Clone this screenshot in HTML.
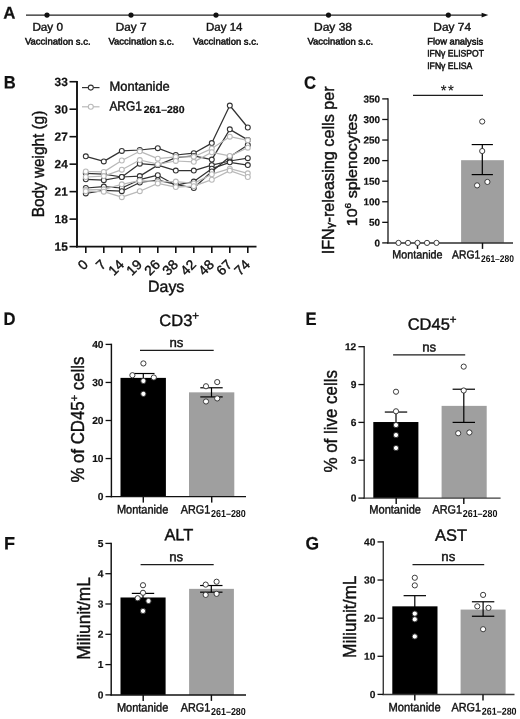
<!DOCTYPE html>
<html lang="en">
<head>
<meta charset="utf-8">
<title>Figure</title>
<style>
html,body{margin:0;padding:0;background:#fff;}
body{width:520px;height:719px;overflow:hidden;}
svg{display:block;font-family:'Liberation Sans', sans-serif;}
svg text{stroke:#111;stroke-width:.42px;}
svg text[font-weight=bold]{stroke-width:.2px;}
</style>
</head>
<body>
<svg width="520" height="719" viewBox="0 0 520 719">
<rect x="0" y="0" width="520" height="719" fill="#ffffff"/>
<text x="3.20" y="18.80" transform="rotate(0.05 3.20 18.80)" font-size="17.2" text-anchor="start" font-weight="bold" fill="#111" textLength="12.2" lengthAdjust="spacingAndGlyphs">A</text>
<line x1="26.00" y1="15.10" x2="483.00" y2="15.10" stroke="#222" stroke-width="1.4" stroke-linecap="butt"/>
<path d="M488.3 15.1 L481.6 12.7 L481.6 17.5 Z" fill="#111"/>
<circle cx="47" cy="15.1" r="2.6" fill="#111"/>
<circle cx="131" cy="15.1" r="2.6" fill="#111"/>
<circle cx="216" cy="15.1" r="2.6" fill="#111"/>
<circle cx="328.5" cy="15.1" r="2.6" fill="#111"/>
<circle cx="448.3" cy="15.1" r="2.6" fill="#111"/>
<text x="32.40" y="30.80" transform="rotate(0.05 32.40 30.80)" font-size="11.3" text-anchor="start" font-weight="normal" fill="#111" textLength="30.6" lengthAdjust="spacingAndGlyphs" style="stroke-width:.4px">Day 0</text>
<text x="115.80" y="30.80" transform="rotate(0.05 115.80 30.80)" font-size="11.3" text-anchor="start" font-weight="normal" fill="#111" textLength="30.6" lengthAdjust="spacingAndGlyphs" style="stroke-width:.4px">Day 7</text>
<text x="206.00" y="30.80" transform="rotate(0.05 206.00 30.80)" font-size="11.3" text-anchor="start" font-weight="normal" fill="#111" textLength="36.5" lengthAdjust="spacingAndGlyphs" style="stroke-width:.4px">Day 14</text>
<text x="314.00" y="30.80" transform="rotate(0.05 314.00 30.80)" font-size="11.3" text-anchor="start" font-weight="normal" fill="#111" textLength="38" lengthAdjust="spacingAndGlyphs" style="stroke-width:.4px">Day 38</text>
<text x="433.30" y="30.80" transform="rotate(0.05 433.30 30.80)" font-size="11.3" text-anchor="start" font-weight="normal" fill="#111" textLength="37.7" lengthAdjust="spacingAndGlyphs" style="stroke-width:.4px">Day 74</text>
<text x="25.00" y="44.60" transform="rotate(0.05 25.00 44.60)" font-size="9.4" text-anchor="start" font-weight="normal" fill="#111" textLength="65.6" lengthAdjust="spacingAndGlyphs" style="stroke-width:.5px">Vaccination s.c.</text>
<text x="108.50" y="44.60" transform="rotate(0.05 108.50 44.60)" font-size="9.4" text-anchor="start" font-weight="normal" fill="#111" textLength="65.6" lengthAdjust="spacingAndGlyphs" style="stroke-width:.5px">Vaccination s.c.</text>
<text x="193.00" y="44.60" transform="rotate(0.05 193.00 44.60)" font-size="9.4" text-anchor="start" font-weight="normal" fill="#111" textLength="65.6" lengthAdjust="spacingAndGlyphs" style="stroke-width:.5px">Vaccination s.c.</text>
<text x="307.50" y="44.60" transform="rotate(0.05 307.50 44.60)" font-size="9.4" text-anchor="start" font-weight="normal" fill="#111" textLength="65.6" lengthAdjust="spacingAndGlyphs" style="stroke-width:.5px">Vaccination s.c.</text>
<text x="427.20" y="44.60" transform="rotate(0.05 427.20 44.60)" font-size="9.4" text-anchor="start" font-weight="normal" fill="#111" textLength="56" lengthAdjust="spacingAndGlyphs" style="stroke-width:.5px">Flow analysis</text>
<text x="427.20" y="56.50" transform="rotate(0.05 427.20 56.50)" font-size="9.4" text-anchor="start" font-weight="normal" fill="#111" textLength="56.7" lengthAdjust="spacingAndGlyphs" style="stroke-width:.5px">IFNγ ELISPOT</text>
<text x="427.20" y="69.00" transform="rotate(0.05 427.20 69.00)" font-size="9.4" text-anchor="start" font-weight="normal" fill="#111" textLength="45.2" lengthAdjust="spacingAndGlyphs" style="stroke-width:.5px">IFNγ ELISA</text>
<text x="3.70" y="88.50" transform="rotate(0.05 3.70 88.50)" font-size="18" text-anchor="start" font-weight="bold" fill="#111" textLength="12" lengthAdjust="spacingAndGlyphs">B</text>
<line x1="77.00" y1="80.92" x2="77.00" y2="247.50" stroke="#111" stroke-width="1.9" stroke-linecap="butt"/>
<line x1="76.10" y1="246.60" x2="256.50" y2="246.60" stroke="#111" stroke-width="1.9" stroke-linecap="butt"/>
<line x1="69.50" y1="246.60" x2="77.00" y2="246.60" stroke="#111" stroke-width="1.6" stroke-linecap="butt"/>
<text x="67.80" y="250.80" transform="rotate(0.05 67.80 250.80)" font-size="11.9" text-anchor="end" font-weight="bold" fill="#111" >15</text>
<line x1="69.50" y1="219.12" x2="77.00" y2="219.12" stroke="#111" stroke-width="1.6" stroke-linecap="butt"/>
<text x="67.80" y="223.32" transform="rotate(0.05 67.80 223.32)" font-size="11.9" text-anchor="end" font-weight="bold" fill="#111" >18</text>
<line x1="69.50" y1="191.64" x2="77.00" y2="191.64" stroke="#111" stroke-width="1.6" stroke-linecap="butt"/>
<text x="67.80" y="195.84" transform="rotate(0.05 67.80 195.84)" font-size="11.9" text-anchor="end" font-weight="bold" fill="#111" >21</text>
<line x1="69.50" y1="164.16" x2="77.00" y2="164.16" stroke="#111" stroke-width="1.6" stroke-linecap="butt"/>
<text x="67.80" y="168.36" transform="rotate(0.05 67.80 168.36)" font-size="11.9" text-anchor="end" font-weight="bold" fill="#111" >24</text>
<line x1="69.50" y1="136.68" x2="77.00" y2="136.68" stroke="#111" stroke-width="1.6" stroke-linecap="butt"/>
<text x="67.80" y="140.88" transform="rotate(0.05 67.80 140.88)" font-size="11.9" text-anchor="end" font-weight="bold" fill="#111" >27</text>
<line x1="69.50" y1="109.20" x2="77.00" y2="109.20" stroke="#111" stroke-width="1.6" stroke-linecap="butt"/>
<text x="67.80" y="113.40" transform="rotate(0.05 67.80 113.40)" font-size="11.9" text-anchor="end" font-weight="bold" fill="#111" >30</text>
<line x1="69.50" y1="81.72" x2="77.00" y2="81.72" stroke="#111" stroke-width="1.6" stroke-linecap="butt"/>
<text x="67.80" y="85.92" transform="rotate(0.05 67.80 85.92)" font-size="11.9" text-anchor="end" font-weight="bold" fill="#111" >33</text>
<line x1="85.80" y1="246.60" x2="85.80" y2="253.00" stroke="#111" stroke-width="1.6" stroke-linecap="butt"/>
<text transform="translate(88.8,265.4) rotate(-45)" font-size="13.7" text-anchor="end" fill="#111">0</text>
<line x1="103.80" y1="246.60" x2="103.80" y2="253.00" stroke="#111" stroke-width="1.6" stroke-linecap="butt"/>
<text transform="translate(106.8,265.4) rotate(-45)" font-size="13.7" text-anchor="end" fill="#111">7</text>
<line x1="121.80" y1="246.60" x2="121.80" y2="253.00" stroke="#111" stroke-width="1.6" stroke-linecap="butt"/>
<text transform="translate(124.8,265.4) rotate(-45)" font-size="13.7" text-anchor="end" fill="#111">14</text>
<line x1="139.80" y1="246.60" x2="139.80" y2="253.00" stroke="#111" stroke-width="1.6" stroke-linecap="butt"/>
<text transform="translate(142.8,265.4) rotate(-45)" font-size="13.7" text-anchor="end" fill="#111">19</text>
<line x1="157.80" y1="246.60" x2="157.80" y2="253.00" stroke="#111" stroke-width="1.6" stroke-linecap="butt"/>
<text transform="translate(160.8,265.4) rotate(-45)" font-size="13.7" text-anchor="end" fill="#111">26</text>
<line x1="175.80" y1="246.60" x2="175.80" y2="253.00" stroke="#111" stroke-width="1.6" stroke-linecap="butt"/>
<text transform="translate(178.8,265.4) rotate(-45)" font-size="13.7" text-anchor="end" fill="#111">38</text>
<line x1="193.80" y1="246.60" x2="193.80" y2="253.00" stroke="#111" stroke-width="1.6" stroke-linecap="butt"/>
<text transform="translate(196.8,265.4) rotate(-45)" font-size="13.7" text-anchor="end" fill="#111">42</text>
<line x1="211.80" y1="246.60" x2="211.80" y2="253.00" stroke="#111" stroke-width="1.6" stroke-linecap="butt"/>
<text transform="translate(214.8,265.4) rotate(-45)" font-size="13.7" text-anchor="end" fill="#111">48</text>
<line x1="229.80" y1="246.60" x2="229.80" y2="253.00" stroke="#111" stroke-width="1.6" stroke-linecap="butt"/>
<text transform="translate(232.8,265.4) rotate(-45)" font-size="13.7" text-anchor="end" fill="#111">67</text>
<line x1="247.80" y1="246.60" x2="247.80" y2="253.00" stroke="#111" stroke-width="1.6" stroke-linecap="butt"/>
<text transform="translate(250.8,265.4) rotate(-45)" font-size="13.7" text-anchor="end" fill="#111">74</text>
<text x="166.20" y="291.90" transform="rotate(0.05 166.20 291.90)" font-size="15.9" text-anchor="middle" font-weight="normal" fill="#111" >Days</text>
<text transform="translate(43.6,164) rotate(-90)" font-size="15.9" text-anchor="middle" fill="#111" textLength="106.5" lengthAdjust="spacingAndGlyphs">Body weight (g)</text>
<line x1="82.00" y1="87.60" x2="99.50" y2="87.60" stroke="#333333" stroke-width="1.2" stroke-linecap="butt"/>
<circle cx="90.80" cy="87.60" r="2.5" fill="#fff" stroke="#333333" stroke-width="1.1"/>
<line x1="82.00" y1="106.80" x2="99.50" y2="106.80" stroke="#b9b9b9" stroke-width="1.2" stroke-linecap="butt"/>
<circle cx="90.80" cy="106.80" r="2.5" fill="#fff" stroke="#b9b9b9" stroke-width="1.1"/>
<text x="109.60" y="90.70" transform="rotate(0.05 109.60 90.70)" font-size="13.1" text-anchor="start" font-weight="normal" fill="#111" textLength="60.2" lengthAdjust="spacingAndGlyphs">Montanide</text>
<text x="109.4" y="110.4" transform="rotate(0.05 109.4 110.4)" font-size="13.2" fill="#111" textLength="32.6" lengthAdjust="spacingAndGlyphs">ARG1</text><text x="143.7" y="113.1" transform="rotate(0.05 143.7 113.1)" font-size="10.2" font-weight="bold" fill="#111" textLength="40.8" lengthAdjust="spacingAndGlyphs">261–280</text>
<polyline points="85.8,156.4 103.8,161.4 121.8,150.9 139.8,150.0 157.8,148.1 175.8,155.0 193.8,153.2 211.8,143.1 229.8,105.5 247.8,127.5" fill="none" stroke="#333333" stroke-width="1.25" stroke-linejoin="round"/>
<circle cx="85.80" cy="156.37" r="2.45" fill="#fff" stroke="#333333" stroke-width="1.1"/>
<circle cx="103.80" cy="161.41" r="2.45" fill="#fff" stroke="#333333" stroke-width="1.1"/>
<circle cx="121.80" cy="150.88" r="2.45" fill="#fff" stroke="#333333" stroke-width="1.1"/>
<circle cx="139.80" cy="149.96" r="2.45" fill="#fff" stroke="#333333" stroke-width="1.1"/>
<circle cx="157.80" cy="148.13" r="2.45" fill="#fff" stroke="#333333" stroke-width="1.1"/>
<circle cx="175.80" cy="155.00" r="2.45" fill="#fff" stroke="#333333" stroke-width="1.1"/>
<circle cx="193.80" cy="153.17" r="2.45" fill="#fff" stroke="#333333" stroke-width="1.1"/>
<circle cx="211.80" cy="143.09" r="2.45" fill="#fff" stroke="#333333" stroke-width="1.1"/>
<circle cx="229.80" cy="105.54" r="2.45" fill="#fff" stroke="#333333" stroke-width="1.1"/>
<circle cx="247.80" cy="127.52" r="2.45" fill="#fff" stroke="#333333" stroke-width="1.1"/>
<polyline points="85.8,173.3 103.8,174.2 121.8,177.0 139.8,163.7 157.8,165.1 175.8,157.7 193.8,155.9 211.8,159.6 229.8,129.4 247.8,139.9" fill="none" stroke="#333333" stroke-width="1.25" stroke-linejoin="round"/>
<circle cx="85.80" cy="173.32" r="2.45" fill="#fff" stroke="#333333" stroke-width="1.1"/>
<circle cx="103.80" cy="174.24" r="2.45" fill="#fff" stroke="#333333" stroke-width="1.1"/>
<circle cx="121.80" cy="176.98" r="2.45" fill="#fff" stroke="#333333" stroke-width="1.1"/>
<circle cx="139.80" cy="163.70" r="2.45" fill="#fff" stroke="#333333" stroke-width="1.1"/>
<circle cx="157.80" cy="165.08" r="2.45" fill="#fff" stroke="#333333" stroke-width="1.1"/>
<circle cx="175.80" cy="157.75" r="2.45" fill="#fff" stroke="#333333" stroke-width="1.1"/>
<circle cx="193.80" cy="155.92" r="2.45" fill="#fff" stroke="#333333" stroke-width="1.1"/>
<circle cx="211.80" cy="159.58" r="2.45" fill="#fff" stroke="#333333" stroke-width="1.1"/>
<circle cx="229.80" cy="129.35" r="2.45" fill="#fff" stroke="#333333" stroke-width="1.1"/>
<circle cx="247.80" cy="139.89" r="2.45" fill="#fff" stroke="#333333" stroke-width="1.1"/>
<polyline points="85.8,179.3 103.8,180.2 121.8,177.0 139.8,176.1 157.8,165.1 175.8,170.6 193.8,170.6 211.8,165.1 229.8,161.0 247.8,158.2" fill="none" stroke="#333333" stroke-width="1.25" stroke-linejoin="round"/>
<circle cx="85.80" cy="179.27" r="2.45" fill="#fff" stroke="#333333" stroke-width="1.1"/>
<circle cx="103.80" cy="180.19" r="2.45" fill="#fff" stroke="#333333" stroke-width="1.1"/>
<circle cx="121.80" cy="176.98" r="2.45" fill="#fff" stroke="#333333" stroke-width="1.1"/>
<circle cx="139.80" cy="176.07" r="2.45" fill="#fff" stroke="#333333" stroke-width="1.1"/>
<circle cx="157.80" cy="165.08" r="2.45" fill="#fff" stroke="#333333" stroke-width="1.1"/>
<circle cx="175.80" cy="170.57" r="2.45" fill="#fff" stroke="#333333" stroke-width="1.1"/>
<circle cx="193.80" cy="170.57" r="2.45" fill="#fff" stroke="#333333" stroke-width="1.1"/>
<circle cx="211.80" cy="165.08" r="2.45" fill="#fff" stroke="#333333" stroke-width="1.1"/>
<circle cx="229.80" cy="160.95" r="2.45" fill="#fff" stroke="#333333" stroke-width="1.1"/>
<circle cx="247.80" cy="158.21" r="2.45" fill="#fff" stroke="#333333" stroke-width="1.1"/>
<polyline points="85.8,188.0 103.8,186.6 121.8,188.0 139.8,179.7 157.8,175.2 175.8,185.2 193.8,181.6 211.8,168.7 229.8,162.3 247.8,165.1" fill="none" stroke="#333333" stroke-width="1.25" stroke-linejoin="round"/>
<circle cx="85.80" cy="187.98" r="2.45" fill="#fff" stroke="#333333" stroke-width="1.1"/>
<circle cx="103.80" cy="186.60" r="2.45" fill="#fff" stroke="#333333" stroke-width="1.1"/>
<circle cx="121.80" cy="187.98" r="2.45" fill="#fff" stroke="#333333" stroke-width="1.1"/>
<circle cx="139.80" cy="179.73" r="2.45" fill="#fff" stroke="#333333" stroke-width="1.1"/>
<circle cx="157.80" cy="175.15" r="2.45" fill="#fff" stroke="#333333" stroke-width="1.1"/>
<circle cx="175.80" cy="185.23" r="2.45" fill="#fff" stroke="#333333" stroke-width="1.1"/>
<circle cx="193.80" cy="181.56" r="2.45" fill="#fff" stroke="#333333" stroke-width="1.1"/>
<circle cx="211.80" cy="168.74" r="2.45" fill="#fff" stroke="#333333" stroke-width="1.1"/>
<circle cx="229.80" cy="162.33" r="2.45" fill="#fff" stroke="#333333" stroke-width="1.1"/>
<circle cx="247.80" cy="165.08" r="2.45" fill="#fff" stroke="#333333" stroke-width="1.1"/>
<polyline points="85.8,193.5 103.8,190.3 121.8,191.2 139.8,182.5 157.8,180.2 175.8,184.3 193.8,188.0 211.8,171.5 229.8,156.8 247.8,144.9" fill="none" stroke="#333333" stroke-width="1.25" stroke-linejoin="round"/>
<circle cx="85.80" cy="193.47" r="2.45" fill="#fff" stroke="#333333" stroke-width="1.1"/>
<circle cx="103.80" cy="190.27" r="2.45" fill="#fff" stroke="#333333" stroke-width="1.1"/>
<circle cx="121.80" cy="191.18" r="2.45" fill="#fff" stroke="#333333" stroke-width="1.1"/>
<circle cx="139.80" cy="182.48" r="2.45" fill="#fff" stroke="#333333" stroke-width="1.1"/>
<circle cx="157.80" cy="180.19" r="2.45" fill="#fff" stroke="#333333" stroke-width="1.1"/>
<circle cx="175.80" cy="184.31" r="2.45" fill="#fff" stroke="#333333" stroke-width="1.1"/>
<circle cx="193.80" cy="187.98" r="2.45" fill="#fff" stroke="#333333" stroke-width="1.1"/>
<circle cx="211.80" cy="171.49" r="2.45" fill="#fff" stroke="#333333" stroke-width="1.1"/>
<circle cx="229.80" cy="156.83" r="2.45" fill="#fff" stroke="#333333" stroke-width="1.1"/>
<circle cx="247.80" cy="144.92" r="2.45" fill="#fff" stroke="#333333" stroke-width="1.1"/>
<polyline points="85.8,171.5 103.8,171.9 121.8,160.5 139.8,151.3 157.8,158.7 175.8,156.8 193.8,156.8 211.8,148.6 229.8,136.7 247.8,140.3" fill="none" stroke="#b9b9b9" stroke-width="1.25" stroke-linejoin="round"/>
<circle cx="85.80" cy="171.49" r="2.45" fill="#fff" stroke="#b9b9b9" stroke-width="1.1"/>
<circle cx="103.80" cy="171.95" r="2.45" fill="#fff" stroke="#b9b9b9" stroke-width="1.1"/>
<circle cx="121.80" cy="160.50" r="2.45" fill="#fff" stroke="#b9b9b9" stroke-width="1.1"/>
<circle cx="139.80" cy="151.34" r="2.45" fill="#fff" stroke="#b9b9b9" stroke-width="1.1"/>
<circle cx="157.80" cy="158.66" r="2.45" fill="#fff" stroke="#b9b9b9" stroke-width="1.1"/>
<circle cx="175.80" cy="156.83" r="2.45" fill="#fff" stroke="#b9b9b9" stroke-width="1.1"/>
<circle cx="193.80" cy="156.83" r="2.45" fill="#fff" stroke="#b9b9b9" stroke-width="1.1"/>
<circle cx="211.80" cy="148.59" r="2.45" fill="#fff" stroke="#b9b9b9" stroke-width="1.1"/>
<circle cx="229.80" cy="136.68" r="2.45" fill="#fff" stroke="#b9b9b9" stroke-width="1.1"/>
<circle cx="247.80" cy="140.34" r="2.45" fill="#fff" stroke="#b9b9b9" stroke-width="1.1"/>
<polyline points="85.8,177.0 103.8,176.1 121.8,169.7 139.8,160.0 157.8,164.2 175.8,161.0 193.8,161.9 211.8,152.3 229.8,155.9 247.8,147.7" fill="none" stroke="#b9b9b9" stroke-width="1.25" stroke-linejoin="round"/>
<circle cx="85.80" cy="176.98" r="2.45" fill="#fff" stroke="#b9b9b9" stroke-width="1.1"/>
<circle cx="103.80" cy="176.07" r="2.45" fill="#fff" stroke="#b9b9b9" stroke-width="1.1"/>
<circle cx="121.80" cy="169.66" r="2.45" fill="#fff" stroke="#b9b9b9" stroke-width="1.1"/>
<circle cx="139.80" cy="160.04" r="2.45" fill="#fff" stroke="#b9b9b9" stroke-width="1.1"/>
<circle cx="157.80" cy="164.16" r="2.45" fill="#fff" stroke="#b9b9b9" stroke-width="1.1"/>
<circle cx="175.80" cy="160.95" r="2.45" fill="#fff" stroke="#b9b9b9" stroke-width="1.1"/>
<circle cx="193.80" cy="161.87" r="2.45" fill="#fff" stroke="#b9b9b9" stroke-width="1.1"/>
<circle cx="211.80" cy="152.25" r="2.45" fill="#fff" stroke="#b9b9b9" stroke-width="1.1"/>
<circle cx="229.80" cy="155.92" r="2.45" fill="#fff" stroke="#b9b9b9" stroke-width="1.1"/>
<circle cx="247.80" cy="147.67" r="2.45" fill="#fff" stroke="#b9b9b9" stroke-width="1.1"/>
<polyline points="85.8,189.8 103.8,189.3 121.8,184.3 139.8,180.6 157.8,181.6 175.8,181.6 193.8,183.4 211.8,174.2 229.8,168.7 247.8,173.3" fill="none" stroke="#b9b9b9" stroke-width="1.25" stroke-linejoin="round"/>
<circle cx="85.80" cy="189.81" r="2.45" fill="#fff" stroke="#b9b9b9" stroke-width="1.1"/>
<circle cx="103.80" cy="189.35" r="2.45" fill="#fff" stroke="#b9b9b9" stroke-width="1.1"/>
<circle cx="121.80" cy="184.31" r="2.45" fill="#fff" stroke="#b9b9b9" stroke-width="1.1"/>
<circle cx="139.80" cy="180.65" r="2.45" fill="#fff" stroke="#b9b9b9" stroke-width="1.1"/>
<circle cx="157.80" cy="181.56" r="2.45" fill="#fff" stroke="#b9b9b9" stroke-width="1.1"/>
<circle cx="175.80" cy="181.56" r="2.45" fill="#fff" stroke="#b9b9b9" stroke-width="1.1"/>
<circle cx="193.80" cy="183.40" r="2.45" fill="#fff" stroke="#b9b9b9" stroke-width="1.1"/>
<circle cx="211.80" cy="174.24" r="2.45" fill="#fff" stroke="#b9b9b9" stroke-width="1.1"/>
<circle cx="229.80" cy="168.74" r="2.45" fill="#fff" stroke="#b9b9b9" stroke-width="1.1"/>
<circle cx="247.80" cy="173.32" r="2.45" fill="#fff" stroke="#b9b9b9" stroke-width="1.1"/>
<polyline points="85.8,191.2 103.8,191.6 121.8,197.1 139.8,191.2 157.8,183.4 175.8,187.1 193.8,186.1 211.8,179.7 229.8,170.6 247.8,177.0" fill="none" stroke="#b9b9b9" stroke-width="1.25" stroke-linejoin="round"/>
<circle cx="85.80" cy="191.18" r="2.45" fill="#fff" stroke="#b9b9b9" stroke-width="1.1"/>
<circle cx="103.80" cy="191.64" r="2.45" fill="#fff" stroke="#b9b9b9" stroke-width="1.1"/>
<circle cx="121.80" cy="197.14" r="2.45" fill="#fff" stroke="#b9b9b9" stroke-width="1.1"/>
<circle cx="139.80" cy="191.18" r="2.45" fill="#fff" stroke="#b9b9b9" stroke-width="1.1"/>
<circle cx="157.80" cy="183.40" r="2.45" fill="#fff" stroke="#b9b9b9" stroke-width="1.1"/>
<circle cx="175.80" cy="187.06" r="2.45" fill="#fff" stroke="#b9b9b9" stroke-width="1.1"/>
<circle cx="193.80" cy="186.14" r="2.45" fill="#fff" stroke="#b9b9b9" stroke-width="1.1"/>
<circle cx="211.80" cy="179.73" r="2.45" fill="#fff" stroke="#b9b9b9" stroke-width="1.1"/>
<circle cx="229.80" cy="170.57" r="2.45" fill="#fff" stroke="#b9b9b9" stroke-width="1.1"/>
<circle cx="247.80" cy="176.98" r="2.45" fill="#fff" stroke="#b9b9b9" stroke-width="1.1"/>
<text x="303.90" y="88.70" transform="rotate(0.05 303.90 88.70)" font-size="18" text-anchor="start" font-weight="bold" fill="#111" textLength="12" lengthAdjust="spacingAndGlyphs">C</text>
<rect x="398.00" y="242.90" width="39.00" height="0.00" fill="#000"/>
<rect x="461.10" y="160.20" width="42.80" height="82.70" fill="#9f9f9f"/>
<line x1="388.00" y1="98.20" x2="388.00" y2="243.60" stroke="#2e2e2e" stroke-width="1.45" stroke-linecap="butt"/>
<line x1="387.30" y1="242.90" x2="513.00" y2="242.90" stroke="#2e2e2e" stroke-width="1.45" stroke-linecap="butt"/>
<line x1="382.20" y1="242.90" x2="388.00" y2="242.90" stroke="#111" stroke-width="1.3" stroke-linecap="butt"/>
<text x="380.10" y="246.40" transform="rotate(0.05 380.10 246.40)" font-size="9.9" text-anchor="end" font-weight="bold" fill="#111" >0</text>
<line x1="382.20" y1="222.33" x2="388.00" y2="222.33" stroke="#111" stroke-width="1.3" stroke-linecap="butt"/>
<text x="380.10" y="225.83" transform="rotate(0.05 380.10 225.83)" font-size="9.9" text-anchor="end" font-weight="bold" fill="#111" >50</text>
<line x1="382.20" y1="201.76" x2="388.00" y2="201.76" stroke="#111" stroke-width="1.3" stroke-linecap="butt"/>
<text x="380.10" y="205.26" transform="rotate(0.05 380.10 205.26)" font-size="9.9" text-anchor="end" font-weight="bold" fill="#111" >100</text>
<line x1="382.20" y1="181.19" x2="388.00" y2="181.19" stroke="#111" stroke-width="1.3" stroke-linecap="butt"/>
<text x="380.10" y="184.69" transform="rotate(0.05 380.10 184.69)" font-size="9.9" text-anchor="end" font-weight="bold" fill="#111" >150</text>
<line x1="382.20" y1="160.61" x2="388.00" y2="160.61" stroke="#111" stroke-width="1.3" stroke-linecap="butt"/>
<text x="380.10" y="164.11" transform="rotate(0.05 380.10 164.11)" font-size="9.9" text-anchor="end" font-weight="bold" fill="#111" >200</text>
<line x1="382.20" y1="140.04" x2="388.00" y2="140.04" stroke="#111" stroke-width="1.3" stroke-linecap="butt"/>
<text x="380.10" y="143.54" transform="rotate(0.05 380.10 143.54)" font-size="9.9" text-anchor="end" font-weight="bold" fill="#111" >250</text>
<line x1="382.20" y1="119.47" x2="388.00" y2="119.47" stroke="#111" stroke-width="1.3" stroke-linecap="butt"/>
<text x="380.10" y="122.97" transform="rotate(0.05 380.10 122.97)" font-size="9.9" text-anchor="end" font-weight="bold" fill="#111" >300</text>
<line x1="382.20" y1="98.90" x2="388.00" y2="98.90" stroke="#111" stroke-width="1.3" stroke-linecap="butt"/>
<text x="380.10" y="102.40" transform="rotate(0.05 380.10 102.40)" font-size="9.9" text-anchor="end" font-weight="bold" fill="#111" >350</text>
<line x1="417.50" y1="242.90" x2="417.50" y2="248.90" stroke="#111" stroke-width="1.45" stroke-linecap="butt"/>
<line x1="482.50" y1="242.90" x2="482.50" y2="248.90" stroke="#111" stroke-width="1.45" stroke-linecap="butt"/>
<line x1="417.50" y1="242.90" x2="417.50" y2="242.90" stroke="#000" stroke-width="1.2" stroke-linecap="butt"/>
<line x1="417.50" y1="242.90" x2="417.50" y2="242.90" stroke="#000" stroke-width="1.2" stroke-linecap="butt"/>
<line x1="417.50" y1="242.90" x2="417.50" y2="242.90" stroke="#000" stroke-width="1.2" stroke-linecap="butt"/>
<circle cx="398.50" cy="242.90" r="2.6" fill="#fff" stroke="#333" stroke-width="0.95"/>
<circle cx="408.00" cy="242.90" r="2.6" fill="#fff" stroke="#333" stroke-width="0.95"/>
<circle cx="417.50" cy="242.90" r="2.6" fill="#fff" stroke="#333" stroke-width="0.95"/>
<circle cx="427.00" cy="242.90" r="2.6" fill="#fff" stroke="#333" stroke-width="0.95"/>
<circle cx="436.50" cy="242.90" r="2.6" fill="#fff" stroke="#333" stroke-width="0.95"/>
<line x1="482.30" y1="144.57" x2="482.30" y2="174.60" stroke="#000" stroke-width="1.2" stroke-linecap="butt"/>
<line x1="471.70" y1="144.57" x2="492.90" y2="144.57" stroke="#000" stroke-width="1.2" stroke-linecap="butt"/>
<line x1="471.70" y1="174.60" x2="492.90" y2="174.60" stroke="#000" stroke-width="1.2" stroke-linecap="butt"/>
<circle cx="482.20" cy="121.53" r="2.6" fill="#fff" stroke="#333" stroke-width="0.95"/>
<circle cx="482.20" cy="151.03" r="2.6" fill="#fff" stroke="#333" stroke-width="0.95"/>
<circle cx="477.10" cy="185.38" r="2.6" fill="#fff" stroke="#333" stroke-width="0.95"/>
<circle cx="487.40" cy="181.93" r="2.6" fill="#fff" stroke="#333" stroke-width="0.95"/>
<line x1="413.00" y1="95.30" x2="483.00" y2="95.30" stroke="#1c1c1c" stroke-width="1.15" stroke-linecap="butt"/>
<text x="447.90" y="95.40" transform="rotate(0.05 447.90 95.40)" font-size="14.8" text-anchor="middle" font-weight="normal" fill="#111" letter-spacing="1.3" style="stroke-width:.15px">**</text>
<text transform="translate(334.2,170.3) rotate(-90)" font-size="15.7" text-anchor="middle" fill="#111" textLength="168" lengthAdjust="spacingAndGlyphs">IFN<tspan font-size="11">γ</tspan>-releasing cells per</text><text transform="translate(356.8,170) rotate(-90)" font-size="15.2" text-anchor="middle" fill="#111" textLength="112.5" lengthAdjust="spacingAndGlyphs">10<tspan font-size="9.5" dy="-6">6</tspan><tspan dy="6"> splenocytes</tspan></text>
<text x="417.40" y="258.40" transform="rotate(0.05 417.40 258.40)" font-size="11.6" text-anchor="middle" font-weight="normal" fill="#111" textLength="50.2" lengthAdjust="spacingAndGlyphs">Montanide</text>
<text x="452.10" y="258.40" transform="rotate(0.05 452.10 258.40)" font-size="11.6" text-anchor="start" font-weight="normal" fill="#111" textLength="28.1" lengthAdjust="spacingAndGlyphs">ARG1</text>
<text x="480.95" y="261.90" transform="rotate(0.05 480.95 261.90)" font-size="9.86" text-anchor="start" font-weight="bold" fill="#111" textLength="33.1" lengthAdjust="spacingAndGlyphs" style="stroke-width:0">261–280</text>
<text x="3.50" y="324.90" transform="rotate(0.05 3.50 324.90)" font-size="18" text-anchor="start" font-weight="bold" fill="#111" textLength="12" lengthAdjust="spacingAndGlyphs">D</text>
<rect x="120.50" y="377.88" width="45.40" height="118.72" fill="#000"/>
<rect x="189.00" y="392.34" width="45.30" height="104.26" fill="#9f9f9f"/>
<line x1="111.40" y1="343.70" x2="111.40" y2="497.30" stroke="#111" stroke-width="1.45" stroke-linecap="butt"/>
<line x1="110.70" y1="496.60" x2="246.00" y2="496.60" stroke="#111" stroke-width="1.45" stroke-linecap="butt"/>
<line x1="105.60" y1="496.60" x2="111.40" y2="496.60" stroke="#111" stroke-width="1.3" stroke-linecap="butt"/>
<text x="103.50" y="500.10" transform="rotate(0.05 103.50 500.10)" font-size="10.2" text-anchor="end" font-weight="bold" fill="#111" >0</text>
<line x1="105.60" y1="458.55" x2="111.40" y2="458.55" stroke="#111" stroke-width="1.3" stroke-linecap="butt"/>
<text x="103.50" y="462.05" transform="rotate(0.05 103.50 462.05)" font-size="10.2" text-anchor="end" font-weight="bold" fill="#111" >10</text>
<line x1="105.60" y1="420.50" x2="111.40" y2="420.50" stroke="#111" stroke-width="1.3" stroke-linecap="butt"/>
<text x="103.50" y="424.00" transform="rotate(0.05 103.50 424.00)" font-size="10.2" text-anchor="end" font-weight="bold" fill="#111" >20</text>
<line x1="105.60" y1="382.45" x2="111.40" y2="382.45" stroke="#111" stroke-width="1.3" stroke-linecap="butt"/>
<text x="103.50" y="385.95" transform="rotate(0.05 103.50 385.95)" font-size="10.2" text-anchor="end" font-weight="bold" fill="#111" >30</text>
<line x1="105.60" y1="344.40" x2="111.40" y2="344.40" stroke="#111" stroke-width="1.3" stroke-linecap="butt"/>
<text x="103.50" y="347.90" transform="rotate(0.05 103.50 347.90)" font-size="10.2" text-anchor="end" font-weight="bold" fill="#111" >40</text>
<line x1="143.30" y1="496.60" x2="143.30" y2="502.60" stroke="#111" stroke-width="1.45" stroke-linecap="butt"/>
<line x1="211.70" y1="496.60" x2="211.70" y2="502.60" stroke="#111" stroke-width="1.45" stroke-linecap="butt"/>
<line x1="143.30" y1="373.51" x2="143.30" y2="382.45" stroke="#000" stroke-width="1.2" stroke-linecap="butt"/>
<line x1="132.10" y1="373.51" x2="154.50" y2="373.51" stroke="#000" stroke-width="1.2" stroke-linecap="butt"/>
<line x1="132.10" y1="382.45" x2="154.50" y2="382.45" stroke="#000" stroke-width="1.2" stroke-linecap="butt"/>
<circle cx="143.40" cy="363.43" r="2.6" fill="#fff" stroke="#333" stroke-width="0.95"/>
<circle cx="132.40" cy="375.22" r="2.6" fill="#fff" stroke="#333" stroke-width="0.95"/>
<circle cx="153.80" cy="377.50" r="2.6" fill="#fff" stroke="#333" stroke-width="0.95"/>
<circle cx="143.40" cy="380.93" r="2.6" fill="#fff" stroke="#333" stroke-width="0.95"/>
<circle cx="143.40" cy="393.87" r="2.6" fill="#fff" stroke="#333" stroke-width="0.95"/>
<line x1="211.50" y1="387.78" x2="211.50" y2="396.91" stroke="#000" stroke-width="1.2" stroke-linecap="butt"/>
<line x1="200.30" y1="387.78" x2="222.70" y2="387.78" stroke="#000" stroke-width="1.2" stroke-linecap="butt"/>
<line x1="200.30" y1="396.91" x2="222.70" y2="396.91" stroke="#000" stroke-width="1.2" stroke-linecap="butt"/>
<circle cx="206.00" cy="386.25" r="2.6" fill="#fff" stroke="#333" stroke-width="0.95"/>
<circle cx="217.20" cy="382.07" r="2.6" fill="#fff" stroke="#333" stroke-width="0.95"/>
<circle cx="206.00" cy="401.48" r="2.6" fill="#fff" stroke="#333" stroke-width="0.95"/>
<circle cx="217.20" cy="398.43" r="2.6" fill="#fff" stroke="#333" stroke-width="0.95"/>
<line x1="140.00" y1="350.40" x2="213.70" y2="350.40" stroke="#1c1c1c" stroke-width="1.15" stroke-linecap="butt"/>
<text x="176.40" y="347.10" transform="rotate(0.05 176.40 347.10)" font-size="13.2" text-anchor="middle" font-weight="normal" fill="#111" >ns</text>
<text x="179.2" y="326" transform="rotate(0.05 179.2 326)" font-size="16.5" text-anchor="middle" fill="#111">CD3<tspan font-size="11.5" dy="-6.6">+</tspan></text>
<text transform="translate(84.1,419.6) rotate(-90)" font-size="17.6" text-anchor="middle" fill="#111" textLength="126" lengthAdjust="spacingAndGlyphs">% of CD45<tspan font-size="11.5" dy="-6.6">+</tspan><tspan dy="6.6"> cells</tspan></text>
<text x="142.60" y="513.40" transform="rotate(0.05 142.60 513.40)" font-size="12" text-anchor="middle" font-weight="normal" fill="#111" textLength="51.4" lengthAdjust="spacingAndGlyphs">Montanide</text>
<text x="180.70" y="513.40" transform="rotate(0.05 180.70 513.40)" font-size="12" text-anchor="start" font-weight="normal" fill="#111" textLength="29.6" lengthAdjust="spacingAndGlyphs">ARG1</text>
<text x="211.00" y="516.90" transform="rotate(0.05 211.00 516.90)" font-size="10.2" text-anchor="start" font-weight="bold" fill="#111" textLength="34.8" lengthAdjust="spacingAndGlyphs" style="stroke-width:0">261–280</text>
<text x="305.60" y="324.90" transform="rotate(0.05 305.60 324.90)" font-size="18" text-anchor="start" font-weight="bold" fill="#111" textLength="11.1" lengthAdjust="spacingAndGlyphs">E</text>
<rect x="373.30" y="422.02" width="45.10" height="76.08" fill="#000"/>
<rect x="441.60" y="405.87" width="45.10" height="92.23" fill="#9f9f9f"/>
<line x1="364.20" y1="346.00" x2="364.20" y2="498.80" stroke="#3c3c3c" stroke-width="1.45" stroke-linecap="butt"/>
<line x1="363.50" y1="498.10" x2="500.60" y2="498.10" stroke="#3c3c3c" stroke-width="1.45" stroke-linecap="butt"/>
<line x1="358.40" y1="498.10" x2="364.20" y2="498.10" stroke="#111" stroke-width="1.3" stroke-linecap="butt"/>
<text x="356.30" y="501.60" transform="rotate(0.05 356.30 501.60)" font-size="10.2" text-anchor="end" font-weight="bold" fill="#111" >0</text>
<line x1="358.40" y1="460.25" x2="364.20" y2="460.25" stroke="#111" stroke-width="1.3" stroke-linecap="butt"/>
<text x="356.30" y="463.75" transform="rotate(0.05 356.30 463.75)" font-size="10.2" text-anchor="end" font-weight="bold" fill="#111" >3</text>
<line x1="358.40" y1="422.40" x2="364.20" y2="422.40" stroke="#111" stroke-width="1.3" stroke-linecap="butt"/>
<text x="356.30" y="425.90" transform="rotate(0.05 356.30 425.90)" font-size="10.2" text-anchor="end" font-weight="bold" fill="#111" >6</text>
<line x1="358.40" y1="384.55" x2="364.20" y2="384.55" stroke="#111" stroke-width="1.3" stroke-linecap="butt"/>
<text x="356.30" y="388.05" transform="rotate(0.05 356.30 388.05)" font-size="10.2" text-anchor="end" font-weight="bold" fill="#111" >9</text>
<line x1="358.40" y1="346.70" x2="364.20" y2="346.70" stroke="#111" stroke-width="1.3" stroke-linecap="butt"/>
<text x="356.30" y="350.20" transform="rotate(0.05 356.30 350.20)" font-size="10.2" text-anchor="end" font-weight="bold" fill="#111" >12</text>
<line x1="396.20" y1="498.10" x2="396.20" y2="504.10" stroke="#111" stroke-width="1.45" stroke-linecap="butt"/>
<line x1="463.80" y1="498.10" x2="463.80" y2="504.10" stroke="#111" stroke-width="1.45" stroke-linecap="butt"/>
<line x1="396.00" y1="412.05" x2="396.00" y2="432.49" stroke="#000" stroke-width="1.2" stroke-linecap="butt"/>
<line x1="384.80" y1="412.05" x2="407.20" y2="412.05" stroke="#000" stroke-width="1.2" stroke-linecap="butt"/>
<line x1="384.80" y1="432.49" x2="407.20" y2="432.49" stroke="#000" stroke-width="1.2" stroke-linecap="butt"/>
<circle cx="396.00" cy="391.74" r="2.6" fill="#fff" stroke="#333" stroke-width="0.95"/>
<circle cx="396.00" cy="411.30" r="2.6" fill="#fff" stroke="#333" stroke-width="0.95"/>
<circle cx="396.00" cy="425.05" r="2.6" fill="#fff" stroke="#333" stroke-width="0.95"/>
<circle cx="396.00" cy="435.02" r="2.6" fill="#fff" stroke="#333" stroke-width="0.95"/>
<circle cx="396.00" cy="448.01" r="2.6" fill="#fff" stroke="#333" stroke-width="0.95"/>
<line x1="463.80" y1="389.22" x2="463.80" y2="422.40" stroke="#000" stroke-width="1.2" stroke-linecap="butt"/>
<line x1="452.60" y1="389.22" x2="475.00" y2="389.22" stroke="#000" stroke-width="1.2" stroke-linecap="butt"/>
<line x1="452.60" y1="422.40" x2="475.00" y2="422.40" stroke="#000" stroke-width="1.2" stroke-linecap="butt"/>
<circle cx="463.70" cy="366.63" r="2.6" fill="#fff" stroke="#333" stroke-width="0.95"/>
<circle cx="463.70" cy="390.48" r="2.6" fill="#fff" stroke="#333" stroke-width="0.95"/>
<circle cx="458.20" cy="433.25" r="2.6" fill="#fff" stroke="#333" stroke-width="0.95"/>
<circle cx="469.40" cy="432.49" r="2.6" fill="#fff" stroke="#333" stroke-width="0.95"/>
<line x1="393.10" y1="354.80" x2="465.20" y2="354.80" stroke="#1c1c1c" stroke-width="1.15" stroke-linecap="butt"/>
<text x="429.20" y="351.50" transform="rotate(0.05 429.20 351.50)" font-size="13.2" text-anchor="middle" font-weight="normal" fill="#111" >ns</text>
<text x="432.1" y="329.8" transform="rotate(0.05 432.1 329.8)" font-size="16.5" text-anchor="middle" fill="#111">CD45<tspan font-size="11.5" dy="-6.6">+</tspan></text>
<text transform="translate(336.5,421.3) rotate(-90)" font-size="17.6" text-anchor="middle" fill="#111" textLength="102.5" lengthAdjust="spacingAndGlyphs">% of live cells</text>
<text x="395.10" y="513.60" transform="rotate(0.05 395.10 513.60)" font-size="12" text-anchor="middle" font-weight="normal" fill="#111" textLength="51.7" lengthAdjust="spacingAndGlyphs">Montanide</text>
<text x="432.40" y="513.60" transform="rotate(0.05 432.40 513.60)" font-size="12" text-anchor="start" font-weight="normal" fill="#111" textLength="29.6" lengthAdjust="spacingAndGlyphs">ARG1</text>
<text x="462.70" y="517.10" transform="rotate(0.05 462.70 517.10)" font-size="10.2" text-anchor="start" font-weight="bold" fill="#111" textLength="34.8" lengthAdjust="spacingAndGlyphs" style="stroke-width:0">261–280</text>
<text x="4.00" y="549.40" transform="rotate(0.05 4.00 549.40)" font-size="18" text-anchor="start" font-weight="bold" fill="#111" textLength="11" lengthAdjust="spacingAndGlyphs">F</text>
<rect x="120.50" y="597.49" width="45.10" height="97.41" fill="#000"/>
<rect x="189.10" y="588.85" width="44.80" height="106.05" fill="#9f9f9f"/>
<line x1="111.20" y1="542.70" x2="111.20" y2="695.60" stroke="#111" stroke-width="1.45" stroke-linecap="butt"/>
<line x1="110.50" y1="694.90" x2="246.00" y2="694.90" stroke="#111" stroke-width="1.45" stroke-linecap="butt"/>
<line x1="105.40" y1="694.90" x2="111.20" y2="694.90" stroke="#111" stroke-width="1.3" stroke-linecap="butt"/>
<text x="103.30" y="698.40" transform="rotate(0.05 103.30 698.40)" font-size="10.2" text-anchor="end" font-weight="bold" fill="#111" >0</text>
<line x1="105.40" y1="664.60" x2="111.20" y2="664.60" stroke="#111" stroke-width="1.3" stroke-linecap="butt"/>
<text x="103.30" y="668.10" transform="rotate(0.05 103.30 668.10)" font-size="10.2" text-anchor="end" font-weight="bold" fill="#111" >1</text>
<line x1="105.40" y1="634.30" x2="111.20" y2="634.30" stroke="#111" stroke-width="1.3" stroke-linecap="butt"/>
<text x="103.30" y="637.80" transform="rotate(0.05 103.30 637.80)" font-size="10.2" text-anchor="end" font-weight="bold" fill="#111" >2</text>
<line x1="105.40" y1="604.00" x2="111.20" y2="604.00" stroke="#111" stroke-width="1.3" stroke-linecap="butt"/>
<text x="103.30" y="607.50" transform="rotate(0.05 103.30 607.50)" font-size="10.2" text-anchor="end" font-weight="bold" fill="#111" >3</text>
<line x1="105.40" y1="573.70" x2="111.20" y2="573.70" stroke="#111" stroke-width="1.3" stroke-linecap="butt"/>
<text x="103.30" y="577.20" transform="rotate(0.05 103.30 577.20)" font-size="10.2" text-anchor="end" font-weight="bold" fill="#111" >4</text>
<line x1="105.40" y1="543.40" x2="111.20" y2="543.40" stroke="#111" stroke-width="1.3" stroke-linecap="butt"/>
<text x="103.30" y="546.90" transform="rotate(0.05 103.30 546.90)" font-size="10.2" text-anchor="end" font-weight="bold" fill="#111" >5</text>
<line x1="143.20" y1="694.90" x2="143.20" y2="700.90" stroke="#111" stroke-width="1.45" stroke-linecap="butt"/>
<line x1="211.40" y1="694.90" x2="211.40" y2="700.90" stroke="#111" stroke-width="1.45" stroke-linecap="butt"/>
<line x1="143.00" y1="593.39" x2="143.00" y2="601.58" stroke="#000" stroke-width="1.2" stroke-linecap="butt"/>
<line x1="131.80" y1="593.39" x2="154.20" y2="593.39" stroke="#000" stroke-width="1.2" stroke-linecap="butt"/>
<line x1="131.80" y1="601.58" x2="154.20" y2="601.58" stroke="#000" stroke-width="1.2" stroke-linecap="butt"/>
<circle cx="143.00" cy="585.21" r="2.6" fill="#fff" stroke="#333" stroke-width="0.95"/>
<circle cx="143.00" cy="592.79" r="2.6" fill="#fff" stroke="#333" stroke-width="0.95"/>
<circle cx="137.70" cy="598.24" r="2.6" fill="#fff" stroke="#333" stroke-width="0.95"/>
<circle cx="148.50" cy="600.97" r="2.6" fill="#fff" stroke="#333" stroke-width="0.95"/>
<circle cx="143.00" cy="610.97" r="2.6" fill="#fff" stroke="#333" stroke-width="0.95"/>
<line x1="211.30" y1="585.52" x2="211.30" y2="592.18" stroke="#000" stroke-width="1.2" stroke-linecap="butt"/>
<line x1="200.10" y1="585.52" x2="222.50" y2="585.52" stroke="#000" stroke-width="1.2" stroke-linecap="butt"/>
<line x1="200.10" y1="592.18" x2="222.50" y2="592.18" stroke="#000" stroke-width="1.2" stroke-linecap="butt"/>
<circle cx="205.70" cy="584.61" r="2.6" fill="#fff" stroke="#333" stroke-width="0.95"/>
<circle cx="216.60" cy="581.73" r="2.6" fill="#fff" stroke="#333" stroke-width="0.95"/>
<circle cx="205.70" cy="594.91" r="2.6" fill="#fff" stroke="#333" stroke-width="0.95"/>
<circle cx="216.60" cy="593.85" r="2.6" fill="#fff" stroke="#333" stroke-width="0.95"/>
<line x1="140.60" y1="564.60" x2="213.70" y2="564.60" stroke="#1c1c1c" stroke-width="1.15" stroke-linecap="butt"/>
<text x="176.20" y="561.20" transform="rotate(0.05 176.20 561.20)" font-size="13.2" text-anchor="middle" font-weight="normal" fill="#111" >ns</text>
<text x="178.8" y="540.2" transform="rotate(0.05 178.8 540.2)" font-size="16.4" text-anchor="middle" fill="#111">ALT</text>
<text transform="translate(90.1,618.5) rotate(-90)" font-size="17.8" text-anchor="middle" fill="#111" textLength="82.6" lengthAdjust="spacingAndGlyphs">Miliunit/mL</text>
<text x="142.60" y="711.60" transform="rotate(0.05 142.60 711.60)" font-size="12" text-anchor="middle" font-weight="normal" fill="#111" textLength="51.4" lengthAdjust="spacingAndGlyphs">Montanide</text>
<text x="180.70" y="711.60" transform="rotate(0.05 180.70 711.60)" font-size="12" text-anchor="start" font-weight="normal" fill="#111" textLength="29.6" lengthAdjust="spacingAndGlyphs">ARG1</text>
<text x="211.00" y="715.10" transform="rotate(0.05 211.00 715.10)" font-size="10.2" text-anchor="start" font-weight="bold" fill="#111" textLength="34.8" lengthAdjust="spacingAndGlyphs" style="stroke-width:0">261–280</text>
<text x="305.50" y="549.50" transform="rotate(0.05 305.50 549.50)" font-size="18" text-anchor="start" font-weight="bold" fill="#111" textLength="13.6" lengthAdjust="spacingAndGlyphs">G</text>
<rect x="392.30" y="606.34" width="45.20" height="88.06" fill="#000"/>
<rect x="460.60" y="609.58" width="45.00" height="84.82" fill="#9f9f9f"/>
<line x1="383.30" y1="541.22" x2="383.30" y2="695.10" stroke="#3c3c3c" stroke-width="1.45" stroke-linecap="butt"/>
<line x1="382.60" y1="694.40" x2="514.50" y2="694.40" stroke="#3c3c3c" stroke-width="1.45" stroke-linecap="butt"/>
<line x1="377.50" y1="694.40" x2="383.30" y2="694.40" stroke="#111" stroke-width="1.3" stroke-linecap="butt"/>
<text x="375.40" y="697.90" transform="rotate(0.05 375.40 697.90)" font-size="10.2" text-anchor="end" font-weight="bold" fill="#111" >0</text>
<line x1="377.50" y1="656.28" x2="383.30" y2="656.28" stroke="#111" stroke-width="1.3" stroke-linecap="butt"/>
<text x="375.40" y="659.78" transform="rotate(0.05 375.40 659.78)" font-size="10.2" text-anchor="end" font-weight="bold" fill="#111" >10</text>
<line x1="377.50" y1="618.16" x2="383.30" y2="618.16" stroke="#111" stroke-width="1.3" stroke-linecap="butt"/>
<text x="375.40" y="621.66" transform="rotate(0.05 375.40 621.66)" font-size="10.2" text-anchor="end" font-weight="bold" fill="#111" >20</text>
<line x1="377.50" y1="580.04" x2="383.30" y2="580.04" stroke="#111" stroke-width="1.3" stroke-linecap="butt"/>
<text x="375.40" y="583.54" transform="rotate(0.05 375.40 583.54)" font-size="10.2" text-anchor="end" font-weight="bold" fill="#111" >30</text>
<line x1="377.50" y1="541.92" x2="383.30" y2="541.92" stroke="#111" stroke-width="1.3" stroke-linecap="butt"/>
<text x="375.40" y="545.42" transform="rotate(0.05 375.40 545.42)" font-size="10.2" text-anchor="end" font-weight="bold" fill="#111" >40</text>
<line x1="414.80" y1="694.40" x2="414.80" y2="700.40" stroke="#111" stroke-width="1.45" stroke-linecap="butt"/>
<line x1="483.00" y1="694.40" x2="483.00" y2="700.40" stroke="#111" stroke-width="1.45" stroke-linecap="butt"/>
<line x1="414.80" y1="595.67" x2="414.80" y2="617.78" stroke="#000" stroke-width="1.2" stroke-linecap="butt"/>
<line x1="403.60" y1="595.67" x2="426.00" y2="595.67" stroke="#000" stroke-width="1.2" stroke-linecap="butt"/>
<line x1="403.60" y1="617.78" x2="426.00" y2="617.78" stroke="#000" stroke-width="1.2" stroke-linecap="butt"/>
<circle cx="414.80" cy="577.75" r="2.6" fill="#fff" stroke="#333" stroke-width="0.95"/>
<circle cx="414.80" cy="585.38" r="2.6" fill="#fff" stroke="#333" stroke-width="0.95"/>
<circle cx="414.80" cy="613.59" r="2.6" fill="#fff" stroke="#333" stroke-width="0.95"/>
<circle cx="414.80" cy="619.30" r="2.6" fill="#fff" stroke="#333" stroke-width="0.95"/>
<circle cx="414.80" cy="636.46" r="2.6" fill="#fff" stroke="#333" stroke-width="0.95"/>
<line x1="483.10" y1="601.77" x2="483.10" y2="616.25" stroke="#000" stroke-width="1.2" stroke-linecap="butt"/>
<line x1="471.90" y1="601.77" x2="494.30" y2="601.77" stroke="#000" stroke-width="1.2" stroke-linecap="butt"/>
<line x1="471.90" y1="616.25" x2="494.30" y2="616.25" stroke="#000" stroke-width="1.2" stroke-linecap="butt"/>
<circle cx="483.10" cy="594.91" r="2.6" fill="#fff" stroke="#333" stroke-width="0.95"/>
<circle cx="477.30" cy="606.34" r="2.6" fill="#fff" stroke="#333" stroke-width="0.95"/>
<circle cx="488.50" cy="607.87" r="2.6" fill="#fff" stroke="#333" stroke-width="0.95"/>
<circle cx="483.10" cy="629.21" r="2.6" fill="#fff" stroke="#333" stroke-width="0.95"/>
<line x1="412.50" y1="564.60" x2="484.20" y2="564.60" stroke="#1c1c1c" stroke-width="1.15" stroke-linecap="butt"/>
<text x="448.30" y="561.00" transform="rotate(0.05 448.30 561.00)" font-size="13.2" text-anchor="middle" font-weight="normal" fill="#111" >ns</text>
<text x="451" y="540.8" transform="rotate(0.05 451 540.8)" font-size="16.4" text-anchor="middle" fill="#111">AST</text>
<text transform="translate(355.9,616.8) rotate(-90)" font-size="17.8" text-anchor="middle" fill="#111" textLength="82.3" lengthAdjust="spacingAndGlyphs">Miliunit/mL</text>
<text x="414.60" y="711.20" transform="rotate(0.05 414.60 711.20)" font-size="12" text-anchor="middle" font-weight="normal" fill="#111" textLength="52" lengthAdjust="spacingAndGlyphs">Montanide</text>
<text x="451.50" y="711.20" transform="rotate(0.05 451.50 711.20)" font-size="12" text-anchor="start" font-weight="normal" fill="#111" textLength="29.6" lengthAdjust="spacingAndGlyphs">ARG1</text>
<text x="481.80" y="714.70" transform="rotate(0.05 481.80 714.70)" font-size="10.2" text-anchor="start" font-weight="bold" fill="#111" textLength="34.8" lengthAdjust="spacingAndGlyphs" style="stroke-width:0">261–280</text>
</svg>
</body>
</html>
